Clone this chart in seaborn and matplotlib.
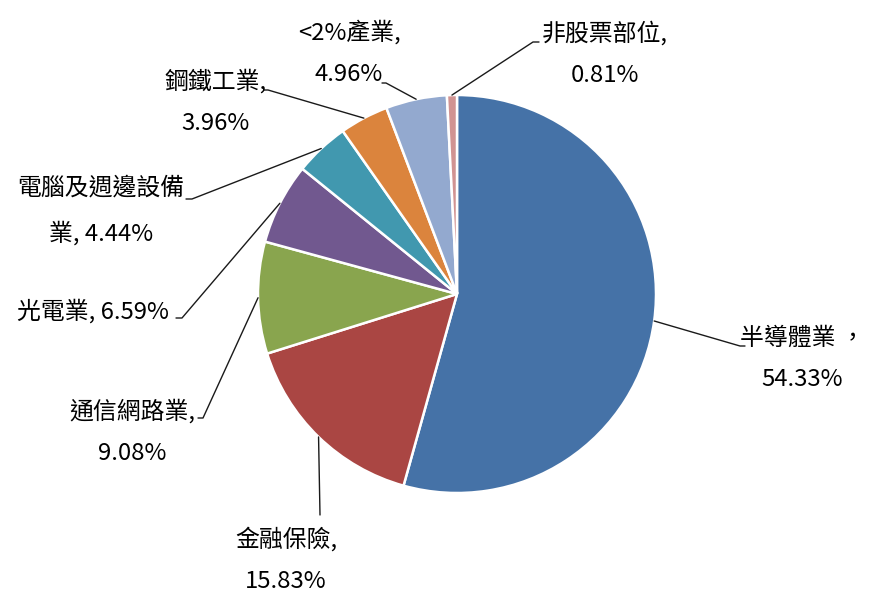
import numpy as np
import matplotlib
matplotlib.use("Agg")
import matplotlib.pyplot as plt
import seaborn as sns

# 資料：產業配置比例
industries = ["半導體業", "金融保險", "通信網路業", "光電業",
              "電腦及週邊設備業", "鋼鐵工業", "<2%產業", "非股票部位"]
weights = [54.33, 15.83, 9.08, 6.59, 4.44, 3.96, 4.96, 0.81]

colors = ["#4572A7", "#AA4643", "#89A54E", "#71588F",
          "#4198AF", "#DB843D", "#93A9CF", "#D19392"]

# 標籤格式與位置（像素座標）
label_fmt = ["{n} ，\n{v}", "{n},\n{v}", "{n},\n{v}", "{n}, {v}",
             "電腦及週邊設備\n業, {v}", "{n},\n{v}", "{n},\n{v}", "{n},\n{v}"]
text_pos = [(802, 359), (286, 560), (132, 432), (93, 311),
            (101, 211), (215, 102), (349, 53), (605, 54)]
elbow = [(740, 346), (320, 515), (203, 418), (182, 318),
         (192, 199), (268, 90), (386, 83), (533, 42)]
tail = [5, 0, -5, -6, -6, -4, -4, 6]

sns.set_theme(style="white")
plt.rcParams["font.family"] = ["Noto Sans CJK TC", "DejaVu Sans"]

W, H = 871, 603
fig = plt.figure(figsize=(W / 100, H / 100), dpi=100)
ax = fig.add_axes([0, 0, 1, 1])

cx, cy, r = 457, 294, 199
wedges, _ = ax.pie(weights, colors=colors, center=(cx, cy), radius=r,
                   startangle=-90, counterclock=True, frame=True,
                   wedgeprops=dict(edgecolor="white", linewidth=1.8))

ax.set_xlim(0, W)
ax.set_ylim(H, 0)
ax.set_aspect("equal")
ax.axis("off")

for w, n, v, fmt, tp, el, tl in zip(wedges, industries, weights, label_fmt,
                                     text_pos, elbow, tail):
    ang = np.deg2rad((w.theta1 + w.theta2) / 2)
    sx, sy = cx + r * np.cos(ang), cy + r * np.sin(ang)
    xs = [sx, el[0], el[0] + tl]
    ys = [sy, el[1], el[1]]
    ax.plot(xs, ys, color="#1a1a1a", lw=1.0)
    ax.text(tp[0], tp[1], fmt.format(n=n, v=f"{v:.2f}%"), ha="center",
            va="center", fontsize=17.2, color="black", linespacing=2.05)

fig.savefig("out.png", dpi=100)
